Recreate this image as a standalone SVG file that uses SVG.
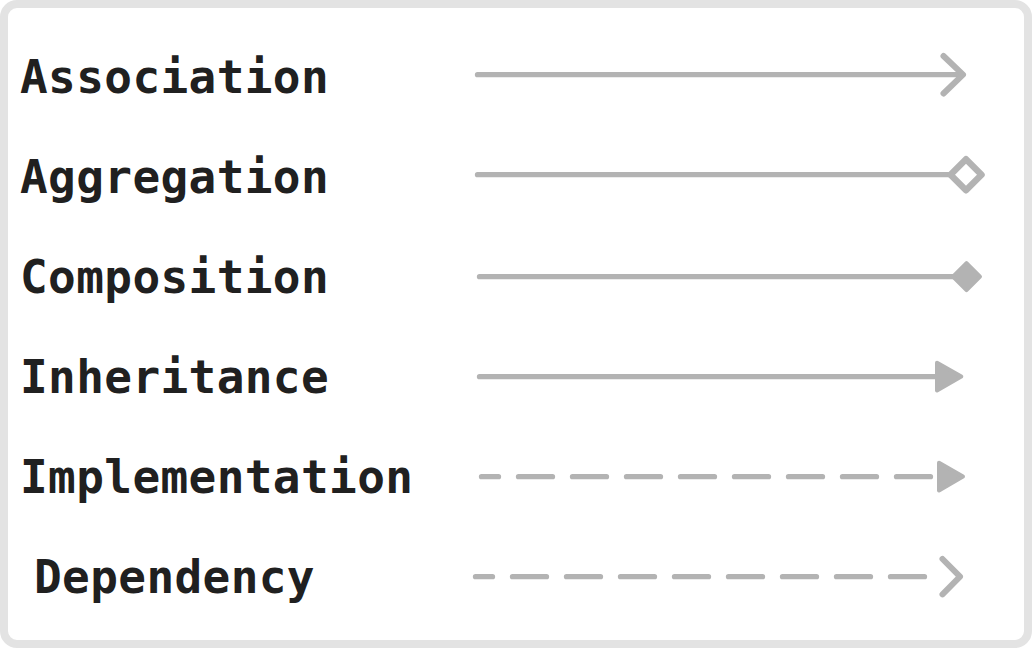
<svg xmlns="http://www.w3.org/2000/svg" width="1032" height="648" viewBox="0 0 1032 648">
<style>
.lbl{font-family:"DejaVu Sans Mono","Liberation Mono",monospace;font-weight:bold;font-size:46px;letter-spacing:0.4px;fill:#202020}
.ln{stroke:#b3b3b3;stroke-width:5.3;stroke-linecap:round;fill:none}
.dash{stroke-dasharray:34 20;stroke-dashoffset:17}
.open{stroke:#b3b3b3;stroke-width:6;stroke-linecap:round;stroke-linejoin:round;fill:none}
.dia{stroke:#b3b3b3;stroke-width:6.5;stroke-linejoin:round;fill:#ffffff}
.solid{stroke:#b3b3b3;stroke-width:4;stroke-linejoin:round;fill:#b3b3b3}
</style>
<rect x="4" y="4" width="1024" height="640" rx="13" fill="#ffffff" stroke="#e3e3e3" stroke-width="8"/>
<g id="association"><text class="lbl" x="20" y="93">Association</text></g>
<g id="aggregation"><text class="lbl" x="20" y="193">Aggregation</text></g>
<g id="composition"><text class="lbl" x="20" y="293">Composition</text></g>
<g id="inheritance"><text class="lbl" x="20" y="393">Inheritance</text></g>
<g id="implementation"><text class="lbl" x="20" y="493">Implementation</text></g>
<g id="dependency"><text class="lbl" x="34" y="593">Dependency</text></g>
<g id="connectors">
<line class="ln" x1="477.5" y1="74.7" x2="961" y2="74.7"/>
<path class="open" d="M943.5,56 L963,74.7 L943.5,93.5"/>
<line class="ln" x1="477.5" y1="174.7" x2="950" y2="174.7"/>
<path class="dia" d="M950.5,174.7 L966,159.2 L981.5,174.7 L966,190.2 Z"/>
<line class="ln" x1="479.5" y1="276.7" x2="955" y2="276.7"/>
<path class="solid" d="M953,276.7 L966.5,263.2 L980,276.7 L966.5,290.2 Z"/>
<line class="ln" x1="479.5" y1="376.7" x2="940" y2="376.7"/>
<path class="solid" d="M937,362.7 L961.3,376.6 L937,390.4 Z"/>
<line class="ln dash" x1="481.5" y1="476.7" x2="932" y2="476.7"/>
<path class="solid" d="M939,462.8 L963,476.6 L939,490.4 Z"/>
<line class="ln dash" x1="475.5" y1="576.7" x2="927" y2="576.7"/>
<path class="open" d="M942.5,559 L960,576.7 L942.5,594.3"/>
</g>
</svg>
